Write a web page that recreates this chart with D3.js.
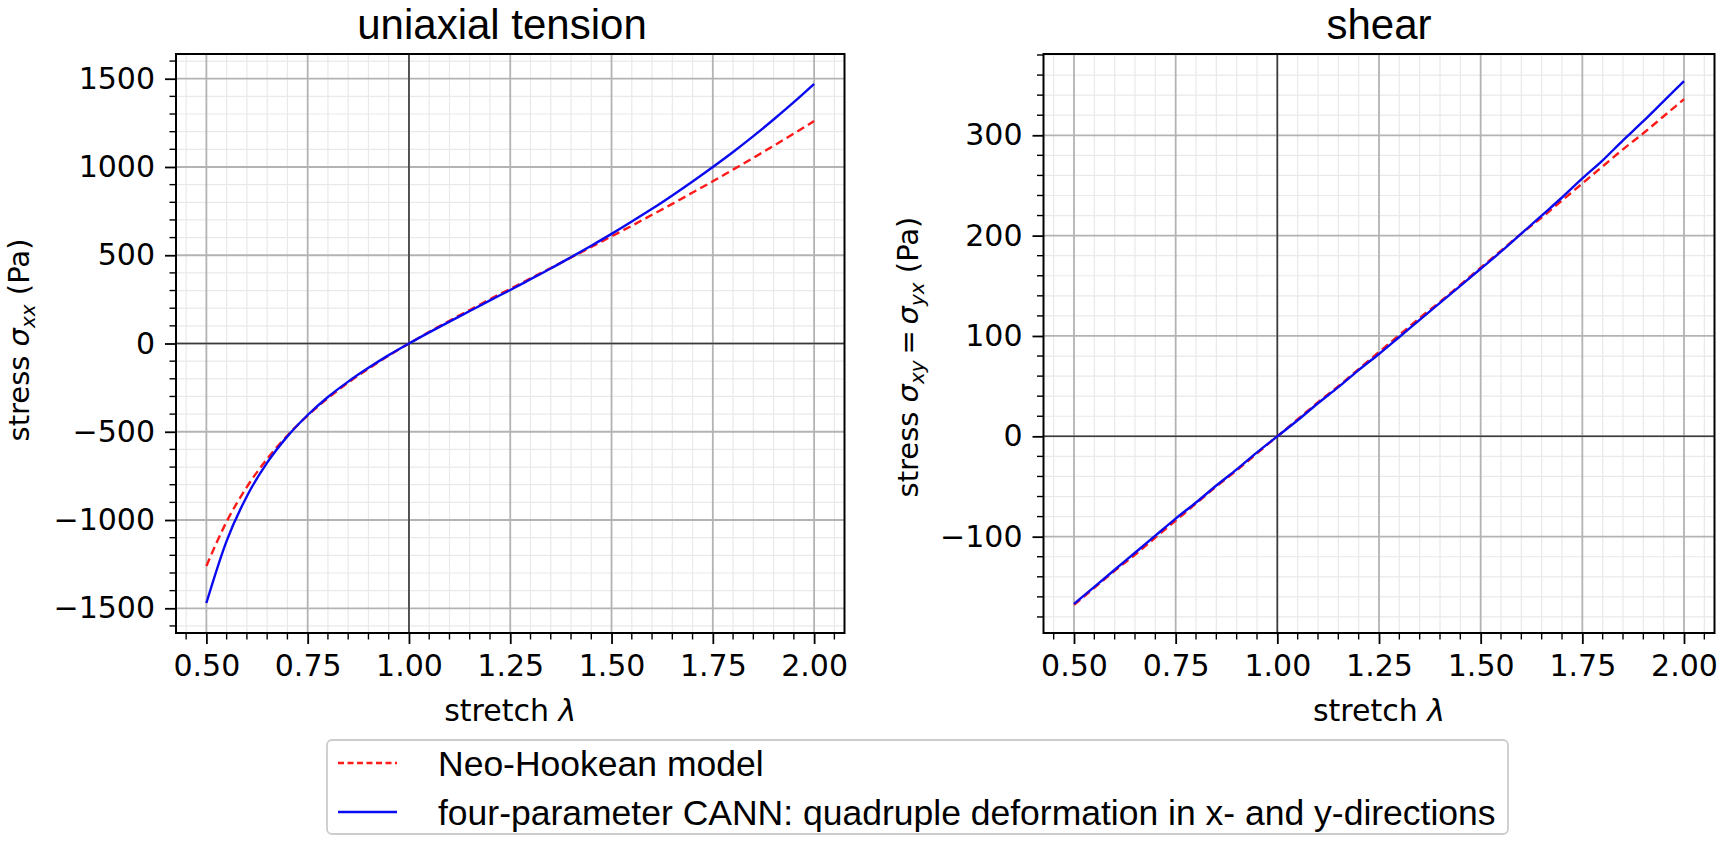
<!DOCTYPE html>
<html>
<head>
<meta charset="utf-8">
<script src="https://cdn.jsdelivr.net/npm/d3@7"></script>
<style>
  html, body { margin: 0; padding: 0; background: #fff; }
  svg { display: block; }
</style>
</head>
<body>
<svg id="chart" width="1725" height="851"></svg>
<script>
// ---------------- data ----------------
const stretch = [0.50,0.55,0.60,0.65,0.70,0.75,0.80,0.85,0.90,0.95,1.00,1.05,1.10,1.15,1.20,1.25,1.30,1.35,1.40,1.45,1.50,1.55,1.60,1.65,1.70,1.75,1.80,1.85,1.90,1.95,2.00];
const uniaxialNeoHookean = [-1260,-1009,-812,-653,-521,-408,-310,-222,-143,-69,0,66,129,190,251,310,369,428,487,547,607,667,729,791,855,919,985,1052,1120,1189,1260];
const uniaxialCANN = [-1470,-1118,-865,-675,-526,-405,-303,-216,-138,-66,0,63,124,184,244,303,364,425,489,554,621,691,763,839,918,1000,1085,1175,1269,1367,1470];
const shearNeoHookean = [-168,-151,-134,-118,-101,-84,-67,-50,-34,-17,0,17,34,50,67,84,101,118,134,151,168,185,202,218,235,252,269,286,302,319,336];
const shearCANN = [-167,-150,-133,-116,-99,-82,-66,-49,-33,-16,0,16,33,49,66,82,99,116,133,150,167,184,202,220,238,257,275,295,314,334,354];

const xTickValues = [0.50,0.75,1.00,1.25,1.50,1.75,2.00];
const xTickLabels = ["0.50","0.75","1.00","1.25","1.50","1.75","2.00"];
const uniYTickValues = [-1500,-1000,-500,0,500,1000,1500];
const uniYTickLabels = ["\u22121500","\u22121000","\u2212500","0","500","1000","1500"];
const shearYTickValues = [-100,0,100,200,300];
const shearYTickLabels = ["\u2212100","0","100","200","300"];

const seriesNames = ["Neo-Hookean model", "four-parameter CANN: quadruple deformation in x- and y-directions"];
const titles = ["uniaxial tension", "shear"];

// ---------------- layout ----------------
const svg = d3.select("#chart");
const tickFont = "DejaVu Sans";
const tickSize = 30;

const panels = [
  { x0: 176, x1: 844.5, y0: 54, y1: 633, yDomain: [-1640, 1640], yTicks: uniYTickValues, yLabels: uniYTickLabels,
    yMinorStep: 100, nh: uniaxialNeoHookean, cann: uniaxialCANN, title: titles[0], titleX: 502,
    ylabX: 29, ylabY: 340, ylab: "xx" },
  { x0: 1043.5, x1: 1714.5, y0: 54, y1: 633, yDomain: [-196, 381], yTicks: shearYTickValues, yLabels: shearYTickLabels,
    yMinorStep: 20, nh: shearNeoHookean, cann: shearCANN, title: titles[1], titleX: 1379,
    ylabX: 918, ylabY: 357, ylab: "shear" }
];

panels.forEach(p => {
  const x = d3.scaleLinear().domain([0.425, 2.075]).range([p.x0, p.x1]);
  const y = d3.scaleLinear().domain(p.yDomain).range([p.y1, p.y0]);
  const g = svg.append("g");

  const xMinor = d3.range(0.45, 2.0751, 0.05).map(v => +v.toFixed(2)).filter(v => !xTickValues.some(t => Math.abs(t - v) < 1e-6));
  const yMinor = d3.range(Math.ceil(p.yDomain[0] / p.yMinorStep) * p.yMinorStep, p.yDomain[1] + 0.001, p.yMinorStep)
    .filter(v => !p.yTicks.includes(v));

  // minor grid
  g.append("g").selectAll("line.vx").data(xMinor).join("line")
    .attr("x1", d => x(d)).attr("x2", d => x(d)).attr("y1", p.y0).attr("y2", p.y1)
    .attr("stroke", "#e9e9e9").attr("stroke-width", 1.2);
  g.append("g").selectAll("line.hy").data(yMinor).join("line")
    .attr("x1", p.x0).attr("x2", p.x1).attr("y1", d => y(d)).attr("y2", d => y(d))
    .attr("stroke", "#e9e9e9").attr("stroke-width", 1.2);
  // major grid
  g.append("g").selectAll("line").data(xTickValues).join("line")
    .attr("x1", d => x(d)).attr("x2", d => x(d)).attr("y1", p.y0).attr("y2", p.y1)
    .attr("stroke", "#b3b3b3").attr("stroke-width", 1.8);
  g.append("g").selectAll("line").data(p.yTicks).join("line")
    .attr("x1", p.x0).attr("x2", p.x1).attr("y1", d => y(d)).attr("y2", d => y(d))
    .attr("stroke", "#b3b3b3").attr("stroke-width", 1.8);
  // zero lines
  g.append("line").attr("x1", x(1)).attr("x2", x(1)).attr("y1", p.y0).attr("y2", p.y1)
    .attr("stroke", "#3a3a3a").attr("stroke-width", 1.6);
  g.append("line").attr("x1", p.x0).attr("x2", p.x1).attr("y1", y(0)).attr("y2", y(0))
    .attr("stroke", "#3a3a3a").attr("stroke-width", 1.6);

  // curves
  const line = d3.line().x((d, i) => x(stretch[i])).y(d => y(d)).curve(d3.curveMonotoneX);
  g.append("path").datum(p.nh).attr("d", line).attr("fill", "none")
    .attr("stroke", "#ff1a1a").attr("stroke-width", 2.4).attr("stroke-dasharray", "8,4.5");
  g.append("path").datum(p.cann).attr("d", line).attr("fill", "none")
    .attr("stroke", "#0a0af0").attr("stroke-width", 2.4);

  // axes
  const xAxis = d3.axisBottom(x).tickValues(xTickValues).tickFormat((d, i) => xTickLabels[i]).tickSize(11).tickPadding(11).tickSizeOuter(0);
  const xa = g.append("g").attr("transform", `translate(0,${p.y1})`).call(xAxis);
  const yAxis = d3.axisLeft(y).tickValues(p.yTicks).tickFormat((d, i) => p.yLabels[i]).tickSize(11).tickPadding(10).tickSizeOuter(0);
  const ya = g.append("g").attr("transform", `translate(${p.x0},0)`).call(yAxis);
  [xa, ya].forEach(a => {
    a.select(".domain").remove();
    a.selectAll(".tick line").attr("stroke", "#000").attr("stroke-width", 1.8);
    a.selectAll(".tick text").attr("font-family", tickFont).attr("font-size", tickSize).attr("fill", "#000");
  });
  // minor ticks
  g.append("g").selectAll("line").data(xMinor).join("line")
    .attr("x1", d => x(d)).attr("x2", d => x(d)).attr("y1", p.y1).attr("y2", p.y1 + 6.5)
    .attr("stroke", "#000").attr("stroke-width", 1.4);
  g.append("g").selectAll("line").data(yMinor).join("line")
    .attr("x1", p.x0 - 6.5).attr("x2", p.x0).attr("y1", d => y(d)).attr("y2", d => y(d))
    .attr("stroke", "#000").attr("stroke-width", 1.4);

  // frame
  g.append("rect").attr("x", p.x0).attr("y", p.y0).attr("width", p.x1 - p.x0).attr("height", p.y1 - p.y0)
    .attr("fill", "none").attr("stroke", "#000").attr("stroke-width", 2);

  // title
  g.append("text").attr("x", p.titleX).attr("y", 39).attr("text-anchor", "middle")
    .attr("font-family", "Liberation Sans, Arial, sans-serif").attr("font-size", 42).attr("fill", "#000")
    .text(p.title);

  // x label
  const xl = g.append("text").attr("x", (p.x0 + p.x1) / 2).attr("y", 721).attr("text-anchor", "middle")
    .attr("font-family", tickFont).attr("font-size", 30).attr("fill", "#000");
  xl.append("tspan").text("stretch ");
  xl.append("tspan").attr("font-style", "italic").text("\u03bb");

  // y label (rotated)
  const yl = g.append("text").attr("transform", `translate(${p.ylabX},${p.ylabY}) rotate(-90)`).attr("text-anchor", "middle")
    .attr("font-family", tickFont).attr("font-size", 29).attr("fill", "#000");
  const sub = (t) => { yl.append("tspan").attr("font-style", "italic").attr("font-size", 20).attr("dy", 6).text(t); };
  const base = (t) => yl.append("tspan").attr("dy", -6).text(t);
  if (p.ylab === "xx") {
    yl.append("tspan").text("stress ");
    yl.append("tspan").attr("font-style", "italic").text("\u03c3");
    sub("xx");
    base(" (Pa)");
  } else {
    yl.append("tspan").text("stress ");
    yl.append("tspan").attr("font-style", "italic").text("\u03c3");
    sub("xy");
    base("\u2009=\u2009");
    yl.append("tspan").attr("font-style", "italic").text("\u03c3");
    sub("yx");
    base(" (Pa)");
  }
});

// ---------------- legend ----------------
const lg = svg.append("g");
lg.append("rect").attr("x", 327).attr("y", 740).attr("width", 1181).attr("height", 94).attr("rx", 5)
  .attr("fill", "#fff").attr("stroke", "#cccccc").attr("stroke-width", 1.8);
const legendY = [763, 812];
const legendStyles = [
  { stroke: "#ff1a1a", dash: "6,3.5" },
  { stroke: "#0a0af0", dash: null }
];
seriesNames.forEach((name, i) => {
  const l = lg.append("line").attr("x1", 338).attr("x2", 397).attr("y1", legendY[i]).attr("y2", legendY[i])
    .attr("stroke", legendStyles[i].stroke).attr("stroke-width", 2.4);
  if (legendStyles[i].dash) l.attr("stroke-dasharray", legendStyles[i].dash);
  lg.append("text").attr("x", 438).attr("y", legendY[i]).attr("dy", "0.36em")
    .attr("font-family", "Liberation Sans, Arial, sans-serif").attr("font-size", 35.5).attr("fill", "#000")
    .text(name);
});
</script>
</body>
</html>
